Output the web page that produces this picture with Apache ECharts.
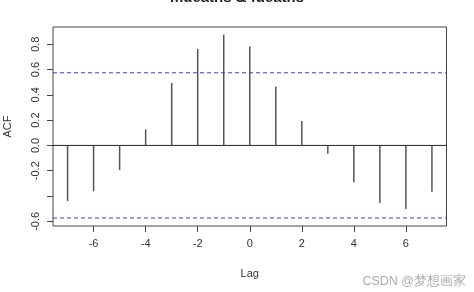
<!DOCTYPE html>
<html><head><meta charset="utf-8">
<script src="https://cdn.jsdelivr.net/npm/echarts@6/dist/echarts.min.js"></script>
<style>html,body{margin:0;padding:0;background:#fff}#c{width:474px;height:292px}</style>
</head><body><div id="c"></div>
<script>
const lags = [-7,-6,-5,-4,-3,-2,-1,0,1,2,3,4,5,6,7];
const acf = [-0.44,-0.363,-0.195,0.126,0.494,0.763,0.876,0.781,0.466,0.192,-0.066,-0.292,-0.455,-0.503,-0.366];
const ciBound = 0.574;
const xTicks = [-6,-4,-2,0,2,4,6];
const yTicks = [-0.6,-0.4,-0.2,0,0.2,0.4,0.6,0.8];
const yLabels = [-0.6,-0.2,0,0.2,0.4,0.6,0.8];
const titleText = 'mdeaths & fdeaths';
const font = 'Liberation Sans, Arial, sans-serif';
const xMin = -7.56, xMax = 7.56;

const chart = echarts.init(document.getElementById('c'), null, {renderer:'canvas'});
function hline(y, color, type){
  return {type:'line',symbol:'none',silent:true,z:1,
    lineStyle:{color:color,type:type,width:1},
    data:[[xMin,y],[xMax,y]]};
}
chart.setOption({
  animation:false,
  backgroundColor:'#fff',
  grid:{left:53,right:27.5,top:27,bottom:66,outerBoundsMode:'none',containLabel:false,
    show:true,borderColor:'#444',borderWidth:1,backgroundColor:'transparent'},
  xAxis:{type:'value',min:xMin,max:xMax,
    name:'Lag',nameLocation:'middle',nameGap:42,
    nameTextStyle:{fontFamily:font,fontSize:11,color:'#333'},
    axisLine:{show:false,onZero:false},splitLine:{show:false},
    axisTick:{show:true,length:6,lineStyle:{color:'#444'},customValues:xTicks},
    axisLabel:{fontFamily:font,fontSize:11,color:'#333',margin:12,customValues:xTicks,formatter:v=>String(v)}},
  yAxis:{type:'value',min:-0.637,max:0.936,
    name:'ACF',nameLocation:'middle',nameGap:40,nameRotate:90,
    nameTextStyle:{fontFamily:font,fontSize:11,color:'#333'},
    axisLine:{show:false,onZero:false},splitLine:{show:false},
    axisTick:{show:true,length:6,lineStyle:{color:'#444'},customValues:yTicks},
    axisLabel:{fontFamily:font,fontSize:11,color:'#333',rotate:90,margin:12,customValues:yLabels,
      formatter:v=>Number(v).toFixed(1)}},
  graphic:[
    {type:'text',left:'center',top:-10,style:{text:titleText,font:'bold 15px '+font,fill:'#222'}},
    {type:'text',right:8,bottom:4,style:{text:'CSDN @梦想画家',font:'12.5px '+font,fill:'#aaa'}}
  ],
  series:[
    {type:'bar',barWidth:1.5,z:2,itemStyle:{color:'#555'},
     data:lags.map((l,i)=>[l,acf[i]])},
    hline(0,'#222','solid'),
    hline(ciBound,'#3b3bd0',[4,3]),
    hline(-ciBound,'#3b3bd0',[4,3])
  ]
});
</script></body></html>
